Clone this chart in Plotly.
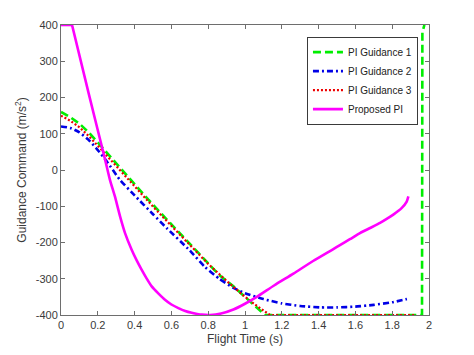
import plotly.graph_objects as go

# ---- data ----
t_pi1 = [0, 0.05, 0.1, 0.15, 0.2, 0.25, 0.3, 0.375, 0.475, 0.574, 0.7, 0.783, 0.86, 0.937, 1.0, 1.045, 1.109, 1.5, 1.962, 1.964, 1.975]
v_pi1 = [160, 146, 128, 104, 76, 47, 18, -27, -82, -136, -203, -250, -290, -321, -350, -372, -400, -400, -400, 380, 400]

t_pi2 = [0, 0.05, 0.1, 0.15, 0.2, 0.25, 0.32, 0.4, 0.5, 0.574, 0.7, 0.783, 0.86, 0.937, 1.0, 1.1, 1.2, 1.3, 1.41, 1.5, 1.6, 1.7, 1.8, 1.88]
v_pi2 = [120, 116, 104, 83, 55, 23, -27, -70, -122, -160, -222, -268, -300, -325, -340, -356, -368, -375, -379, -379, -377, -372, -365, -356]

t_pi3 = [0, 0.05, 0.1, 0.15, 0.2, 0.25, 0.3, 0.375, 0.5, 0.6, 0.7, 0.8, 0.9, 1.0, 1.07, 1.136, 1.5, 1.93]
v_pi3 = [150, 136, 118, 94, 67, 39, 10, -34, -101, -154, -206, -259, -306, -350, -377, -400, -400, -400]

# saturated start of the proposed PI command
t_prop_sat = [0, 0.06]
v_prop_sat = [400, 400]
# remainder of the proposed PI command
t_prop = [0.06, 0.15, 0.24, 0.266, 0.293, 0.321, 0.348, 0.384, 0.41, 0.438, 0.465, 0.493, 0.53, 0.565, 0.6, 0.638, 0.675, 0.71, 0.74, 0.765, 0.81, 0.87, 0.937, 1.0, 1.064, 1.16, 1.263, 1.37, 1.48, 1.516, 1.57, 1.625, 1.68, 1.734, 1.77, 1.806, 1.851, 1.879, 1.888]
v_prop = [400, 212, 28, -27, -73, -128, -174, -220, -248, -275, -299, -321, -341, -358, -371, -381, -389, -394, -397, -399, -400, -396, -385, -369, -350, -318, -286, -251, -218, -207, -191, -174, -160, -146, -135, -123, -105, -87, -73]

x_ticks = [0, 0.2, 0.4, 0.6, 0.8, 1, 1.2, 1.4, 1.6, 1.8, 2]
x_tick_text = ["0", "0.2", "0.4", "0.6", "0.8", "1", "1.2", "1.4", "1.6", "1.8", "2"]
y_ticks = [-400, -300, -200, -100, 0, 100, 200, 300, 400]
y_tick_text = ["-400", "-300", "-200", "-100", "0", "100", "200", "300", "400"]

series_names = ["PI Guidance 1", "PI Guidance 2", "PI Guidance 3", "Proposed PI"]

fig = go.Figure()
fig.add_trace(go.Scatter(x=t_pi1, y=v_pi1, mode="lines", name=series_names[0],
                         line=dict(color="#00ee00", width=2.6, dash="8px,4px")))
fig.add_trace(go.Scatter(x=t_pi2, y=v_pi2, mode="lines", name=series_names[1],
                         line=dict(color="#0000e6", width=2.6, dash="6px,3px,2px,3px",
                                   shape="spline", smoothing=0.5)))
fig.add_trace(go.Scatter(x=t_pi3, y=v_pi3, mode="lines", name=series_names[2],
                         line=dict(color="#ee0000", width=2.2, dash="2px,2px")))
fig.add_trace(go.Scatter(x=t_prop_sat, y=v_prop_sat, mode="lines", name=series_names[3],
                         legendgroup="prop", showlegend=False,
                         line=dict(color="#ff00ff", width=2.6)))
fig.add_trace(go.Scatter(x=t_prop, y=v_prop, mode="lines", name=series_names[3],
                         legendgroup="prop",
                         line=dict(color="#ff00ff", width=2.6, shape="spline", smoothing=0.6)))

axis_common = dict(
    showgrid=False, zeroline=False, showline=True, linecolor="#6e6e6e", linewidth=1,
    mirror="ticks", ticks="inside", ticklen=4, tickcolor="#6e6e6e", automargin=False,
    tickfont=dict(family="Liberation Sans, Arial, sans-serif", size=11, color="#3a3a3a"),
)

fig.update_layout(
    width=474, height=355,
    margin=dict(l=61, r=45, t=25, b=40),
    paper_bgcolor="white", plot_bgcolor="white",
    font=dict(family="Liberation Sans, Arial, sans-serif", size=11, color="#3a3a3a"),
    showlegend=True,
    legend=dict(x=0.97, y=0.96, xanchor="right", yanchor="top",
                bgcolor="white", bordercolor="#3a3a3a", borderwidth=1,
                font=dict(size=10, color="#222222"), tracegroupgap=0,
                itemwidth=30),
    xaxis=dict(range=[0, 2], tickvals=x_ticks, ticktext=x_tick_text,
               title=dict(text="Flight Time (s)", standoff=4, font=dict(size=12)), **axis_common),
    yaxis=dict(range=[-400, 400], tickvals=y_ticks, ticktext=y_tick_text,
               title=dict(text="Guidance Command (m/s<sup>2</sup>)", standoff=6, font=dict(size=12)), **axis_common),
)

fig.write_html("out.html", config={"displayModeBar": False},
               post_script="document.body.style.margin='0';document.body.style.padding='0';")
